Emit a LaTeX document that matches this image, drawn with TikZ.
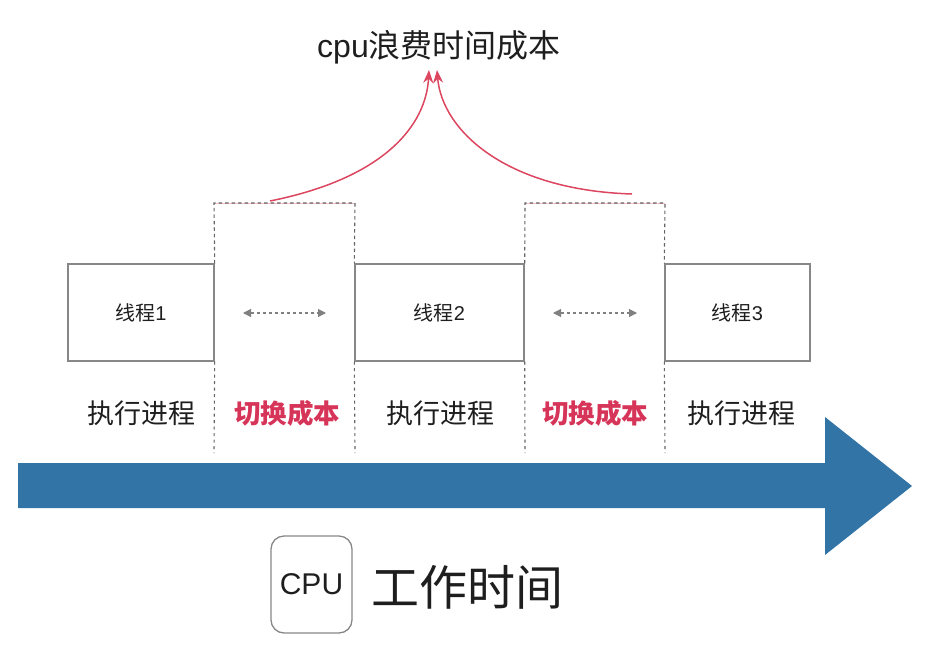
\documentclass[tikz,border=0pt]{standalone}
\usepackage{fontspec}
\usetikzlibrary{arrows.meta}
\newfontfamily\cjk{Noto Sans CJK SC}
\newfontfamily\lat{Liberation Sans}
\definecolor{boxgray}{RGB}{135,135,135}
\definecolor{dashgray}{RGB}{100,100,100}
\definecolor{costred}{RGB}{214,52,88}
\definecolor{curvered}{RGB}{220,70,95}
\definecolor{arrowblue}{RGB}{50,116,166}
\definecolor{txt}{RGB}{30,30,30}
\tikzset{
  threadbox/.style={draw=boxgray, line width=1.4pt, inner sep=0pt, text=txt,
    font=\cjk\fontsize{20}{24}\selectfont},
  sep/.style={draw=dashgray, line width=1.1pt, dash pattern=on 3pt off 3.5pt},
  septop/.style={draw=dashgray, line width=1.1pt, dash pattern=on 3.5pt off 3pt},
  pinkline/.style={draw=curvered!35, line width=0.6pt},
  runlbl/.style={text=txt, font=\cjk\fontsize{27}{31}\selectfont},
  costlbl/.style={text=costred, font=\cjk\bfseries\fontsize{26.5}{30}\selectfont},
  dblarrow/.style={draw=gray, line width=1.1pt, dash pattern=on 3pt off 3pt,
    {Triangle[length=8pt,width=8pt]}-{Triangle[length=8pt,width=8pt]}},
  redcurve/.style={draw=curvered, line width=1.5pt, -{Stealth[length=13pt,width=10pt]}},
}
\begin{document}
\begin{tikzpicture}[x=1pt,y=-1pt]
\useasboundingbox (0,0) rectangle (928,653);
% thread boxes
\node[threadbox, minimum width=146pt, minimum height=97pt] (t1) at (141,312.5) {线程{\lat 1}};
\node[threadbox, minimum width=169pt, minimum height=97pt] (t2) at (439.5,312.5) {线程{\lat 2}};
\node[threadbox, minimum width=145pt, minimum height=97pt] (t3) at (737.5,312.5) {线程{\lat 3}};
% switch regions
\coordinate (s1tl) at (214,203);
\coordinate (s1tr) at (355,203);
\coordinate (s2tl) at (525,203);
\coordinate (s2tr) at (665,203);
\coordinate (s1bl) at (214,453);
\coordinate (s1br) at (355,453);
\coordinate (s2bl) at (525,453);
\coordinate (s2br) at (665,453);
\draw[pinkline] (s1tl) -- (s1tr);
\draw[pinkline] (s2tl) -- (s2tr);
\draw[septop] (t1.north east) -- (s1tl) -- (s1tr) -- (t2.north west);
\draw[septop] (t2.north east) -- (s2tl) -- (s2tr) -- (t3.north west);
\draw[sep] (t1.south east) -- (s1bl);
\draw[sep] (t2.south west) -- (s1br);
\draw[sep] (t2.south east) -- (s2bl);
\draw[sep] (t3.south west) -- (s2br);
% double arrows
\coordinate (d1a) at (243,313);
\coordinate (d1b) at (326,313);
\coordinate (d2a) at (553,313);
\coordinate (d2b) at (637,313);
\draw[dblarrow] (d1a) -- (d1b);
\draw[dblarrow] (d2a) -- (d2b);
% labels
\node[runlbl] (r1) at (141,413) {执行进程};
\node[costlbl] (c1) at (287,413) {切换成本};
\node[runlbl] (r2) at (440,413) {执行进程};
\node[costlbl] (c2) at (595,413) {切换成本};
\node[runlbl] (r3) at (741,413) {执行进程};
% title and curves
\node[text=txt] (title) at (439,47) {{\lat\fontsize{32}{38}\selectfont cpu}{\cjk\fontsize{32}{38}\selectfont 浪费时间成本}};
\coordinate (cl) at (270,201);
\coordinate (cr) at (632,194);
\coordinate (tipl) at (429,70);
\coordinate (tipr) at (437,70);
\draw[redcurve] (cl) .. controls (385,178) and (426,125) .. (tipl);
\draw[redcurve] (cr) .. controls (505,190) and (442,130) .. (tipr);
% big arrow
\fill[arrowblue] (18,463) -- (825,463) -- (825,417) -- (912,486) -- (825,555) -- (825,508) -- (18,508) -- cycle;
% CPU
\node[draw=boxgray, line width=1.3pt, rounded corners=13pt, minimum width=81pt, minimum height=97pt, inner sep=0pt,
  text=txt, font=\lat\fontsize{30}{34}\selectfont] (cpu) at (311.5,584.5) {CPU};
\node[text=txt, font=\cjk\fontsize{48}{54}\selectfont, anchor=west, inner sep=0pt] (work) at (371,587) {工作时间};
\end{tikzpicture}
\end{document}
